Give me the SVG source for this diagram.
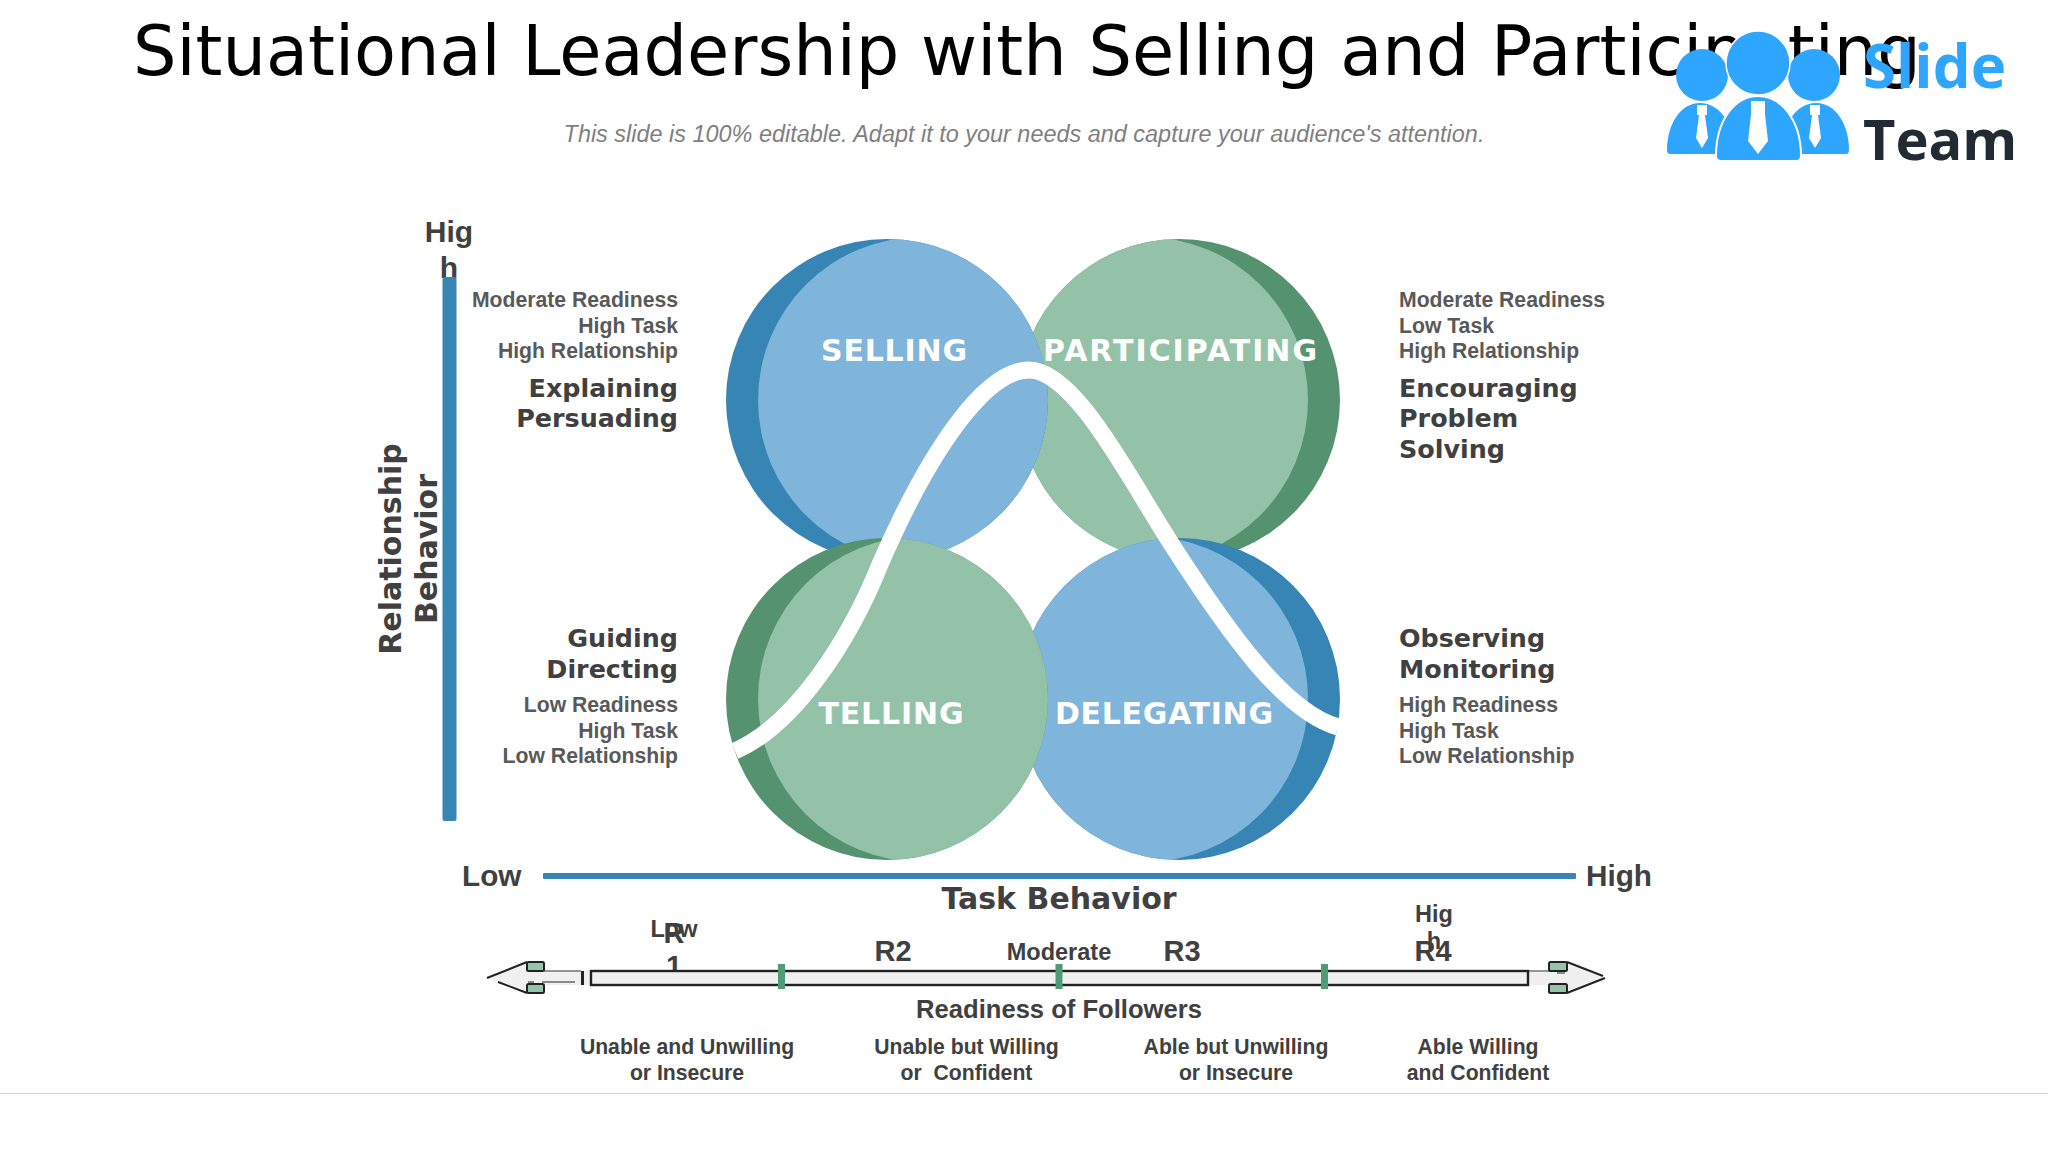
<svg xmlns="http://www.w3.org/2000/svg" width="2048" height="1152" viewBox="0 0 2048 1152">
<style>
text{font-family:"Liberation Sans",Arial,sans-serif}
.dj{font-family:"DejaVu Sans",Verdana,sans-serif;font-weight:700}
.title{font-family:"DejaVu Sans",Verdana,sans-serif;font-size:68.6px;fill:#000}
.sub{font-size:23.45px;font-style:italic;fill:#7f7f7f}
.cl{font-size:30px;fill:#fff;text-anchor:middle}
.sm{font-size:21.2px;font-weight:700;fill:#595959}
.act{font-size:25.4px;fill:#404040}
.r{text-anchor:end}.m{text-anchor:middle}
.axt{font-size:29.7px;font-weight:700;fill:#404040}
.ab{font-size:30px;font-weight:700;fill:#404040;text-anchor:middle}
.rl{font-size:29px;font-weight:700;fill:#404040;text-anchor:middle}
.lv{font-size:23.5px;font-weight:700;fill:#404040;text-anchor:middle}
.fw{font-size:25.6px;font-weight:700;fill:#404040;text-anchor:middle}
.ds{font-size:21.2px;font-weight:700;fill:#404040;text-anchor:middle}
.db{fill:#3685b5}.lb{fill:#7fb5da}.dg{fill:#55926f}.lg{fill:#94c2a8}
.ah{fill:#f0f0f0;stroke:none}
.ln{fill:none;stroke:#222;stroke-width:2}
.blk{fill:#97c3ad;stroke:#222;stroke-width:2}
.tick{fill:#4f9a78}
.logo{fill:#2ea6ff}
</style>
<defs>
<clipPath id="cS"><circle cx="887" cy="400" r="161"/></clipPath>
<clipPath id="cP"><circle cx="1179" cy="400" r="161"/></clipPath>
<clipPath id="cT"><circle cx="887" cy="699" r="161"/></clipPath>
<clipPath id="cD"><circle cx="1179" cy="699" r="161"/></clipPath>
</defs>
<text class="title" x="133" y="75">Situational Leadership with Selling and Participating</text>
<text class="sub m" x="1024" y="142" text-anchor="middle">This slide is 100% editable. Adapt it to your needs and capture your audience's attention.</text>
<g id="logo">
<circle class="logo" cx="1702" cy="75" r="26"/><circle class="logo" cx="1814" cy="75" r="26"/>
<path class="logo" d="M1667 150C1667 125 1680 103 1700 103C1720 103 1735 125 1735 154H1670Q1667 154 1667 150Z"/>
<path class="logo" d="M1849 150C1849 125 1836 103 1816 103C1796 103 1781 125 1781 154H1846Q1849 154 1849 150Z"/>
<path d="M1697 105h10v10h-2l3 23-6 10-6-10 3-23h-2z M1810 105h10v10h-2l3 23-6 10-6-10 3-23h-2z" fill="#fff"/>
<circle class="logo" cx="1758" cy="63" r="32" stroke="#fff" stroke-width="1.5"/>
<path class="logo" stroke="#fff" stroke-width="2" d="M1716 156C1716 120 1735 96 1758 96C1781 96 1801 120 1801 156Q1801 161 1796 161H1721Q1716 161 1716 156Z"/>
<path d="M1751 101h14v13l3 27-10 13-10-13 3-27z" fill="#fff"/>
<text x="1863" y="88" font-size="60" font-weight="700" fill="#2ea6ff" style="font-family:'Open Sans',sans-serif">Slide</text>
<text x="1863" y="160" font-size="56" font-weight="700" fill="#222b33" style="font-family:'Open Sans',sans-serif">Team</text>
</g>
<g id="participating"><circle class="dg" cx="1179" cy="400" r="161"/><circle class="lg" cx="1145" cy="400" r="163" clip-path="url(#cP)"/></g>
<g id="selling"><circle class="db" cx="887" cy="400" r="161"/><circle class="lb" cx="921" cy="400" r="163" clip-path="url(#cS)"/></g>
<g id="delegating"><circle class="db" cx="1179" cy="699" r="161"/><circle class="lb" cx="1145" cy="699" r="163" clip-path="url(#cD)"/></g>
<g id="telling"><circle class="dg" cx="887" cy="699" r="161"/><circle class="lg" cx="921" cy="699" r="163" clip-path="url(#cT)"/></g>
<g id="connectors">
<path d="M735 751C795 725 850 640 881 562C930 450 985 370 1029 370C1075 370 1130 480 1172 545C1230 635 1285 712 1338 727" fill="none" stroke="#fff" stroke-width="17"/>
</g>
<text class="dj cl" x="894" y="361" textLength="146">SELLING</text>
<text class="dj cl" x="1180" y="361" textLength="274">PARTICIPATING</text>
<text class="dj cl" x="891" y="724" textLength="145">TELLING</text>
<text class="dj cl" x="1164" y="724" textLength="218">DELEGATING</text>
<g id="y-axis">
<text class="ab" x="449" y="242">Hig</text><text class="ab" x="449" y="278">h</text>
<rect class="db" x="442.500" y="277" width="14" height="544" rx="2"/>
<g transform="translate(401 549) rotate(-90)"><text class="dj m" font-size="30" fill="#404040" text-anchor="middle">Relationship</text></g>
<g transform="translate(437 549) rotate(-90)"><text class="dj m" font-size="30" fill="#404040" text-anchor="middle">Behavior</text></g>
</g>
<g id="selling-text">
<text class="sm r" x="678" y="307">Moderate Readiness</text><text class="sm r" x="678" y="333">High Task</text><text class="sm r" x="678" y="358">High Relationship</text>
<text class="dj act r" x="678" y="397">Explaining</text><text class="dj act r" x="678" y="427">Persuading</text>
</g>
<g id="participating-text">
<text class="sm" x="1399" y="307">Moderate Readiness</text><text class="sm" x="1399" y="333">Low Task</text><text class="sm" x="1399" y="358">High Relationship</text>
<text class="dj act" x="1399" y="397">Encouraging</text><text class="dj act" x="1399" y="427">Problem</text><text class="dj act" x="1399" y="458">Solving</text>
</g>
<g id="telling-text">
<text class="dj act r" x="678" y="647">Guiding</text><text class="dj act r" x="678" y="678">Directing</text>
<text class="sm r" x="678" y="712">Low Readiness</text><text class="sm r" x="678" y="738">High Task</text><text class="sm r" x="678" y="763">Low Relationship</text>
</g>
<g id="delegating-text">
<text class="dj act" x="1399" y="647">Observing</text><text class="dj act" x="1399" y="678">Monitoring</text>
<text class="sm" x="1399" y="712">High Readiness</text><text class="sm" x="1399" y="738">High Task</text><text class="sm" x="1399" y="763">Low Relationship</text>
</g>
<g id="x-axis">
<rect class="db" x="543" y="873" width="1033" height="6" rx="1"/>
<text class="axt" x="462" y="886">Low</text><text class="axt" x="1586" y="886">High</text>
<text class="dj m" x="1059" y="909" font-size="30" fill="#404040" text-anchor="middle">Task Behavior</text>
</g>
<g id="readiness">
<text class="lv" x="674" y="937">Low</text>
<text class="rl" x="674" y="943">R</text><text class="rl" x="674" y="976">1</text>
<text class="rl" x="893" y="961">R2</text><text class="lv" x="1059" y="960">Moderate</text><text class="rl" x="1182" y="961">R3</text>
<text class="lv" x="1434" y="922">Hig</text><text class="lv" x="1434" y="949">h</text><text class="rl" x="1433" y="961">R4</text>
<path class="ah" d="M487 978L527 962H544V971H1549V962H1567L1606 978L1567 993H1549V985H544V993H527Z"/>
<path class="ln" d="M487 978L527 962M498 982L527 993M1567 962L1603 976M1605 978L1567 993"/>
<path d="M544 971H581M1528 971H1550" fill="none" stroke="#777" stroke-width="1.5"/>
<rect x="591" y="971" width="937" height="14" fill="#f0f0f0" stroke="#222" stroke-width="2.4"/>
<rect x="581" y="971" width="3" height="14" fill="#222"/>
<path d="M528 982H534M542 982H575M1557 973H1565" stroke="#222" stroke-width="1.2" fill="none"/>
<rect class="blk" x="527" y="962" width="17" height="9" rx="1.5"/><rect class="blk" x="527" y="984" width="17" height="9" rx="1.5"/>
<rect class="blk" x="1549" y="962" width="18" height="9" rx="1.5"/><rect class="blk" x="1549" y="984" width="18" height="9" rx="1.5"/>
<rect class="tick" x="778" y="964" width="7" height="25"/><rect class="tick" x="1055.500" y="964" width="7" height="25"/><rect class="tick" x="1321" y="964" width="7" height="25"/>
<text class="fw" x="1059" y="1018">Readiness of Followers</text>
<text class="ds" x="687" y="1054">Unable and Unwilling</text><text class="ds" x="687" y="1080">or Insecure</text>
<text class="ds" x="966.500" y="1054">Unable but Willing</text><text class="ds" x="966.500" y="1080" xml:space="preserve">or  Confident</text>
<text class="ds" x="1236" y="1054">Able but Unwilling</text><text class="ds" x="1236" y="1080">or Insecure</text>
<text class="ds" x="1478" y="1054">Able Willing</text><text class="ds" x="1478" y="1080">and Confident</text>
</g>
<rect x="0" y="1093" width="2048" height="1" fill="#d9d9d9"/>
</svg>
